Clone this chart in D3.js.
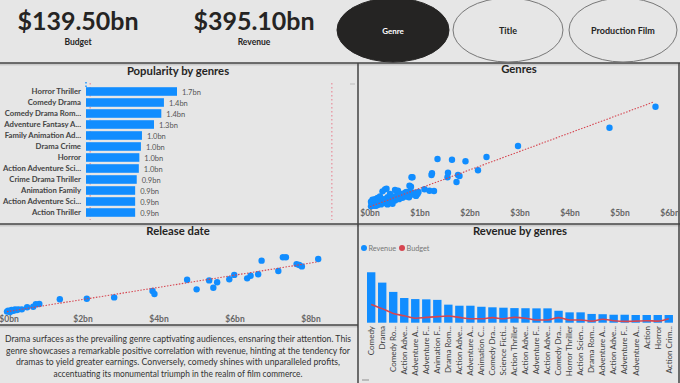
<!DOCTYPE html>
<html><head><meta charset="utf-8">
<script src="https://cdn.jsdelivr.net/npm/d3@7"></script>
<style>
body{margin:0;background:#e6e6e6;overflow:hidden}
svg{display:block}
text{font-family:Lato,'Noto Sans',sans-serif}
</style></head>
<body><svg id="c" width="680" height="383"></svg>
<script>
// ---------- DATA ----------
const kpiValues = [139.50, 395.10];
const kpiLabels = ["Budget", "Revenue"];
const buttons = ["Genre", "Title", "Production Film"];

const popGenres = ["Horror Thriller","Comedy Drama","Comedy Drama Rom...","Adventure Fantasy A...","Family Animation Ad...","Drama Crime","Horror","Action Adventure Sci...","Crime Drama Thriller","Animation Family","Action Adventure Sci... ","Action Thriller"];
const popValues = [1.74,1.49,1.44,1.30,1.07,1.05,1.02,1.01,0.97,0.94,0.94,0.94];
const popLabels = ["1.7bn","1.4bn","1.4bn","1.3bn","1.0bn","1.0bn","1.0bn","1.0bn","0.9bn","0.9bn","0.9bn","0.9bn"];
const popRefLines = [0.08, 4.7];

const genreBudget = [5.71,4.79,2.96,1.35,1.64,1.91,2.33,2.16,1.24,1.23,1.56,1.55,1.76,1.79,1.73,0.83,0.85,0.79,0.82,1.09,1.19,1.28,
 0.02,0.05,0.03,0.08,0.10,0.12,0.06,0.15,0.18,0.20,0.22,0.25,0.28,0.30,0.32,0.35,0.38,0.40,0.42,0.45,0.48,0.50,0.52,0.55,0.58,0.60,0.62,0.65,0.68,0.70,0.72,0.75,0.78,0.80,0.85,0.88,0.92,0.95,0.30,0.33,0.25,0.50,0.56,0.73,0.93,0.97,0.15,0.10,0.20,0.40,0.02,0.05,0.12,0.35,0.45];
const genreRevenue = [15.36,12.14,9.34,7.35,7.24,7.00,7.66,5.62,5.16,4.90,5.25,4.55,4.90,4.75,3.83,4.55,4.55,3.26,3.10,2.71,2.50,2.45,
 0.10,0.30,0.60,0.20,0.50,0.90,0.90,0.30,0.60,1.00,0.40,0.80,1.20,0.60,1.00,1.50,0.90,1.30,0.70,1.10,1.60,1.00,1.40,1.90,1.20,1.60,2.00,1.40,1.80,2.20,1.60,2.00,1.50,2.40,1.90,2.20,1.70,2.00,2.70,2.80,2.40,2.60,2.50,2.30,2.10,2.30,1.40,1.20,1.60,2.00,0.80,1.10,0.20,0.40,0.50];
const genreTrendBudget = [0, 5.68];
const genreTrendRevenue = [0.05, 16.1];
const genreTicks = [0,1,2,3,4,5,6];

const releaseBudget = [8.19,7.62,7.69,7.76,7.14,7.26,7.34,6.70,6.61,6.41,6.32,5.98,5.85,5.53,5.32,5.43,4.99,4.74,3.83,3.88,2.82,2.10,1.39,0.85,0.76,0.69,0.53,0.39,0.30,0.21,0.12,0.03,0.00,0.08,0.17,0.26];
const releaseRevenue = [23.5,21.3,20.9,20.3,18.3,24.3,24.3,22.8,16.9,16.2,15.1,16.6,14.7,13.4,14.2,11.0,10.3,14.5,9.6,8.3,6.8,6.2,6.0,3.9,3.8,2.7,2.5,1.6,1.6,1.6,1.3,1.0,0.6,0.4,1.0,1.3];
const releaseTrendBudget = [0, 8.19];
const releaseTrendRevenue = [0.6, 22.3];
const releaseTicks = [0,2,4,6,8];

const revGenres = ["Comedy","Drama","Comedy Ro...","Action Adve...","Adventure A...","Adventure F...","Animation F...","Drama Rom...","Action Adve... ","Adventure A... ","Animation C...","Comedy Dra...","Science Ficti...","Action Thriller","Action Adve...  ","Adventure F... ","Action Adve...   ","Comedy Dra... ","Horror Thriller","Action Scien...","Drama Rom... ","Adventure A...  ","Action Adve...    ","Adventure F...  ","Adventure A...   ","Action","Horror","Action Crim..."];
const revRevenue = [19.0,15.1,11.6,9.3,8.9,8.8,8.6,6.8,6.4,6.4,6.0,5.8,5.65,5.5,5.45,5.4,5.4,4.5,3.9,3.9,3.3,3.2,3.0,3.0,2.9,2.9,2.9,2.9];
const revBudget = [6.9,5.3,3.5,2.6,1.7,2.0,2.3,2.5,2.0,1.5,1.5,1.9,1.5,2.0,1.7,1.0,1.0,1.9,1.0,1.0,0.6,1.3,0.75,0.5,0.6,0.75,0.6,1.5];
const legendItems = ["Revenue","Budget"];

const paragraph = [
 "Drama surfaces as the prevailing genre captivating audiences, ensnaring their attention. This",
 "genre showcases a remarkable positive correlation with revenue, hinting at the tendency for",
 "dramas to yield greater earnings. Conversely, comedy shines with unparalleled profits,",
 "accentuating its monumental triumph in the realm of film commerce."
];

// ---------- DRAW ----------
const svg = d3.select("#c");
const BLUE = "#118dff", RED = "#d64550", DARK = "#252423";
const fmtBn = d3.format(".2f");

// borders
const border = svg.append("g");
const segs = [[0,63,680,63],[358,63,358,383],[0,224,680,224],[0,325,358,325],[679,63,679,383]];
segs.forEach(s=>{
  border.append("line").attr("x1",s[0]).attr("y1",s[1]+1.5).attr("x2",s[2]).attr("y2",s[3]+1.5)
    .attr("stroke","#000").attr("stroke-opacity",0.12).attr("stroke-width",2);
  border.append("line").attr("x1",s[0]).attr("y1",s[1]).attr("x2",s[2]).attr("y2",s[3])
    .attr("stroke","#444").attr("stroke-width",1.4);
});

// KPIs
const kpiX = [78, 254];
kpiValues.forEach((v,i)=>{
  svg.append("text").attr("x",kpiX[i]).attr("y",29.5).attr("text-anchor","middle")
    .attr("font-family","'Open Sans',sans-serif")
    .attr("font-size",25).attr("font-weight","bold").attr("fill",DARK).text("$"+fmtBn(v)+"bn");
  svg.append("text").attr("x",kpiX[i]).attr("y",45).attr("text-anchor","middle")
    .attr("font-size",8.5).attr("font-weight","bold").attr("fill",DARK).text(kpiLabels[i]);
});

// buttons
const btnCx = [393, 508, 623];
const btnRx = [56,55,54];
buttons.forEach((b,i)=>{
  svg.append("ellipse").attr("cx",btnCx[i]).attr("cy",30).attr("rx",btnRx[i]).attr("ry",32)
    .attr("fill", i===0?DARK:"#e6e6e6").attr("stroke", i===0?DARK:"#777").attr("stroke-width",1);
  svg.append("text").attr("x",btnCx[i]).attr("y",33.5).attr("text-anchor","middle")
    .attr("font-size", i===0?8:9).attr("font-weight","bold").attr("fill", i===0?"#fff":DARK).text(b);
});

// titles
const titles = [["Popularity by genres",178,75],["Genres",519,73],["Release date",178,235],["Revenue by genres",520,235]];
titles.forEach(t=>svg.append("text").attr("x",t[1]).attr("y",t[2]).attr("text-anchor","middle")
  .attr("font-size",11.3).attr("font-weight","bold").attr("fill",DARK).text(t[0]));

// ----- Popularity by genres -----
const px = d3.scaleLinear().domain([0,4.75]).range([86, 86+4.75*52.3]);
const py = d3.scaleBand().domain(popGenres).range([86,218]).paddingInner(0.22).paddingOuter(0.11);
popRefLines.forEach(r=>{
  svg.append("line").attr("x1",px(r)).attr("x2",px(r)).attr("y1",83).attr("y2",220)
    .attr("stroke","#e79aa6").attr("stroke-width",1.4).attr("stroke-dasharray","1.5,2.5");
});
svg.append("line").attr("x1",86).attr("x2",86).attr("y1",82).attr("y2",87)
  .attr("stroke",BLUE).attr("stroke-width",1.4).attr("stroke-dasharray","1.5,2");
svg.append("rect").attr("x",350).attr("y",83.5).attr("width",5).attr("height",1).attr("fill","#bbb");
const pg = svg.append("g");
pg.selectAll("rect").data(popGenres).join("rect")
  .attr("x",px(0)).attr("y",d=>py(d)).attr("height",py.bandwidth())
  .attr("width",(d,i)=>px(popValues[i])-px(0)).attr("fill",BLUE);
const cats = pg.selectAll("text.cat").data(popGenres).join("text").attr("class","cat")
  .attr("x",81).attr("y",d=>py(d)+py.bandwidth()/2).attr("dy","0.35em")
  .attr("text-anchor","end").attr("font-size",9).attr("font-weight","bold").attr("fill","#444").text(d=>d.trim());
let maxW = 0; cats.each(function(){ maxW = Math.max(maxW, this.getComputedTextLength()); });
if (maxW > 78) cats.attr("font-size", 9*78/maxW);
pg.selectAll("text.val").data(popGenres).join("text").attr("class","val")
  .attr("x",(d,i)=>px(popValues[i])+5).attr("y",d=>py(d)+py.bandwidth()/2+1).attr("dy","0.35em")
  .attr("font-size",7.5).attr("fill","#555").text((d,i)=>popLabels[i]);

// ----- Genres scatter -----
const gx = d3.scaleLinear().domain([0,6]).range([370,670]);
const gy = d3.scaleLinear().domain([0,17]).range([207,96]);
svg.append("g").selectAll("circle").data(genreBudget).join("circle")
  .attr("cx",d=>gx(d)).attr("cy",(d,i)=>gy(genreRevenue[i])).attr("r",3.2).attr("fill",BLUE);
svg.append("line").attr("x1",gx(genreTrendBudget[0])).attr("y1",gy(genreTrendRevenue[0]))
  .attr("x2",gx(genreTrendBudget[1])).attr("y2",gy(genreTrendRevenue[1]))
  .attr("stroke",RED).attr("stroke-width",1.1).attr("stroke-dasharray","1.5,1.5");
svg.append("g").selectAll("text").data(genreTicks).join("text")
  .attr("x",d=>gx(d)).attr("y",216).attr("text-anchor","middle").attr("font-size",8.5)
  .attr("font-weight","bold").attr("fill","#666").text(d=>"$"+d+"bn");

// ----- Release date scatter -----
const rx = d3.scaleLinear().domain([0,8]).range([7,311]);
const ry = d3.scaleLinear().domain([0,27]).range([313,251]);
svg.append("g").selectAll("circle").data(releaseBudget).join("circle")
  .attr("cx",d=>rx(d)).attr("cy",(d,i)=>ry(releaseRevenue[i])).attr("r",3.2).attr("fill",BLUE);
svg.append("line").attr("x1",rx(releaseTrendBudget[0])).attr("y1",ry(releaseTrendRevenue[0]))
  .attr("x2",rx(releaseTrendBudget[1])).attr("y2",ry(releaseTrendRevenue[1]))
  .attr("stroke",RED).attr("stroke-width",1.1).attr("stroke-dasharray","1.5,1.5");
svg.append("g").selectAll("text").data(releaseTicks).join("text")
  .attr("x",d=>d===0?Math.max(rx(d),9):rx(d)).attr("y",322).attr("text-anchor","middle").attr("font-size",8.5)
  .attr("font-weight","bold").attr("fill","#666").text(d=>"$"+d+"bn");

// ----- Revenue by genres -----
const lg = svg.append("g");
const legX = [364, 402], legC = [BLUE, RED];
legendItems.forEach((l,i)=>{
  lg.append("circle").attr("cx",legX[i]).attr("cy",248).attr("r",3).attr("fill",legC[i]);
  lg.append("text").attr("x",legX[i]+4.5).attr("y",248).attr("dy","0.35em").attr("font-size",7.3)
    .attr("fill","#777").text(l);
});
const bx = d3.scaleBand().domain(revGenres).range([364.35,675.6]).padding(0.24);
const by = d3.scaleLinear().domain([0,24]).range([322.7,259]);
svg.append("g").selectAll("rect").data(revGenres).join("rect")
  .attr("x",d=>bx(d)).attr("width",bx.bandwidth())
  .attr("y",(d,i)=>by(revRevenue[i])).attr("height",(d,i)=>by(0)-by(revRevenue[i])).attr("fill",BLUE);
const line = d3.line().curve(d3.curveMonotoneX)
  .x((d,i)=>bx(revGenres[i])+bx.bandwidth()/2).y(d=>by(d));
svg.append("path").attr("d",line(revBudget)).attr("fill","none").attr("stroke",RED).attr("stroke-width",1.6);
svg.append("g").selectAll("text").data(revGenres).join("text")
  .attr("transform",d=>`translate(${bx(d)+bx.bandwidth()/2},326) rotate(-90)`)
  .attr("text-anchor","end").attr("dy","0.35em").attr("font-size",8).attr("fill","#444").text(d=>d.trim());
svg.append("rect").attr("x",362).attr("y",379).attr("width",7).attr("height",2).attr("fill","#bbb");

// ----- paragraph -----
const lineY = [342, 353.5, 365, 376.5];
const lineW = [346, 344, 324, 249];
svg.append("g").selectAll("text").data(paragraph).join("text")
  .attr("x",178).attr("y",(d,i)=>lineY[i]).attr("text-anchor","middle")
  .attr("font-size",9).attr("fill","#333").text(d=>d)
  .attr("textLength",(d,i)=>lineW[i]).attr("lengthAdjust","spacingAndGlyphs");
</script></body></html>
